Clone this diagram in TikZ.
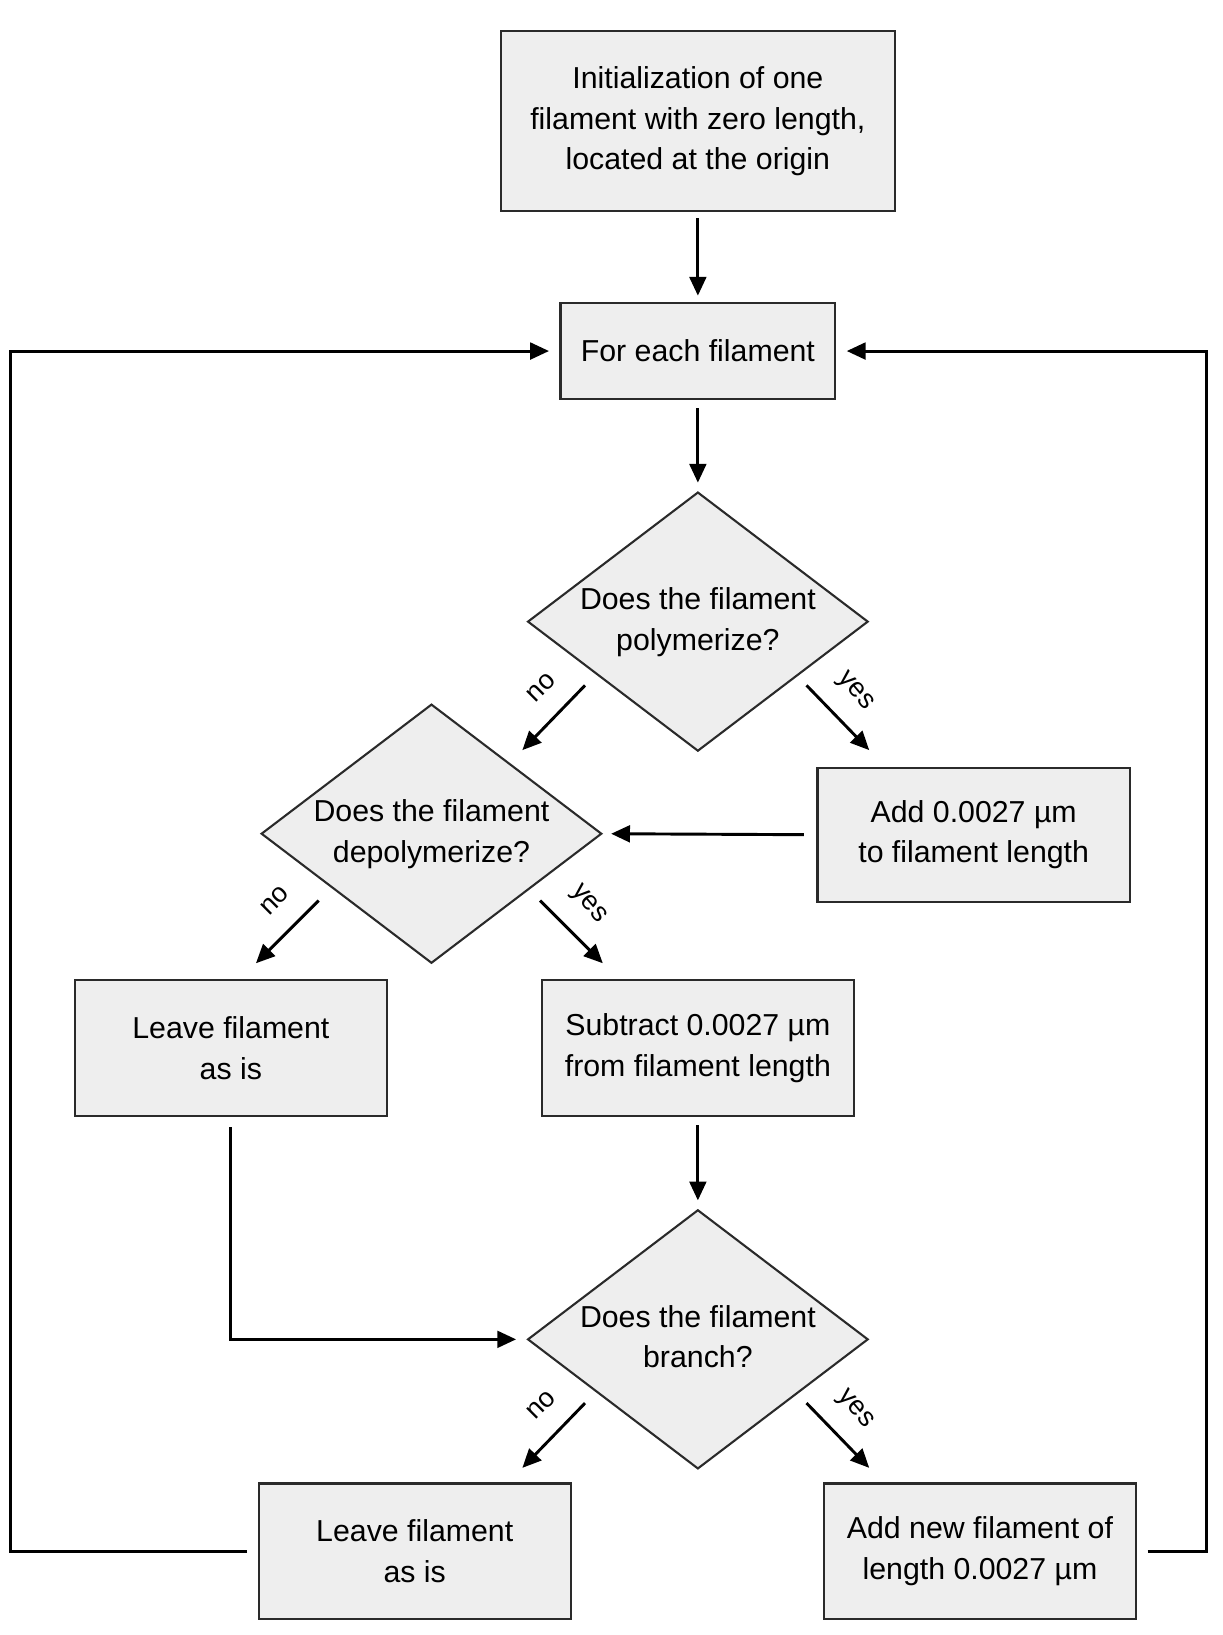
\documentclass[tikz,border=0pt]{standalone}
\usepackage{fontspec}
\setmainfont{Liberation Sans}
\usetikzlibrary{shapes.geometric,arrows.meta}
\definecolor{boxfill}{HTML}{EEEEEE}
\definecolor{boxline}{HTML}{2A2A2A}
\begin{document}
\begin{tikzpicture}[x=0.5pt,y=-0.5pt,
  every node/.style={font=\fontsize{14.5}{19.5}\selectfont},
  box/.style={draw=boxline,line width=1pt,fill=boxfill,align=center,inner sep=0pt},
  dia/.style={draw=boxline,line width=1pt,fill=boxfill,diamond,inner sep=0pt,
    minimum width=163pt,minimum height=124pt},
  arr/.style={-{Triangle[length=9pt,width=8pt]},line width=1.4pt},
  lab/.style={font=\fontsize{13}{15}\selectfont}]
\useasboundingbox (0,0) rectangle (1170,1565);
% boxes
\node[box,minimum width=188.5pt,minimum height=86pt] (init) at (668,116)
  {Initialization of one\\filament with zero length,\\located at the origin};
\node[box,minimum width=131.5pt,minimum height=46pt] (each) at (668,336) {For each filament};
\node[dia] (d1) at (668,595) {\makebox[0pt]{\begin{tabular}{@{}c@{}}Does the filament\\polymerize?\end{tabular}}};
\node[box,minimum width=149.5pt,minimum height=64pt] (add) at (932,799) {Add 0.0027 µm\\to filament length};
\node[dia] (d2) at (413,798) {\makebox[0pt]{\begin{tabular}{@{}c@{}}Does the filament\\depolymerize?\end{tabular}}};
\node[box,minimum width=149.5pt,minimum height=65pt] (leave1) at (221,1003) {Leave filament\\as is};
\node[box,minimum width=149.5pt,minimum height=65pt] (sub) at (668,1003) {Subtract 0.0027 µm\\from filament length};
\node[dia] (d3) at (668,1282) {\makebox[0pt]{\begin{tabular}{@{}c@{}}Does the filament\\branch?\end{tabular}}};
\node[box,minimum width=149.5pt,minimum height=65pt] (leave2) at (397,1485) {Leave filament\\as is};
\node[box,minimum width=149.5pt,minimum height=65pt] (addnew) at (938,1485) {Add new filament of\\length 0.0027 µm};
% free ends of the short branch arrows and loop corners
\coordinate (n1a) at (560,656); \coordinate (n1b) at (500,718);
\coordinate (y1a) at (772,656); \coordinate (y1b) at (832,718);
\coordinate (n2a) at (305,862); \coordinate (n2b) at (245,922);
\coordinate (y2a) at (517,862); \coordinate (y2b) at (577,922);
\coordinate (n3a) at (560,1343); \coordinate (n3b) at (500,1405);
\coordinate (y3a) at (772,1343); \coordinate (y3b) at (832,1405);
\coordinate (lc) at (10,1485);
\coordinate (rc) at (1155,1485);
% connectors
\draw[arr,shorten <=3pt,shorten >=3pt] (init) -- (each);
\draw[arr,shorten <=4pt,shorten >=4pt] (each) -- (d1);
\draw[arr] (n1a) -- (n1b);
\draw[arr] (y1a) -- (y1b);
\draw[arr,shorten <=6pt,shorten >=4pt] (add.west) -- (d2.east);
\draw[arr] (n2a) -- (n2b);
\draw[arr] (y2a) -- (y2b);
\draw[arr,shorten <=4pt,shorten >=4pt] (sub) -- (d3);
\draw[arr,shorten <=5pt,shorten >=5pt] (leave1.south) |- (d3.west);
\draw[arr] (n3a) -- (n3b);
\draw[arr] (y3a) -- (y3b);
\draw[arr,shorten <=5pt,shorten >=5pt] (leave2.west) -- (lc) |- (each.west);
\draw[arr,shorten <=5pt,shorten >=5pt] (addnew.east) -- (rc) |- (each.east);
% labels
\node[lab,rotate=45] at (518,658) {no};
\node[lab,rotate=-50] at (818,662) {yes};
\node[lab,rotate=45] at (263,862) {no};
\node[lab,rotate=-50] at (563,866) {yes};
\node[lab,rotate=45] at (518,1345) {no};
\node[lab,rotate=-50] at (818,1349) {yes};
\end{tikzpicture}
\end{document}
